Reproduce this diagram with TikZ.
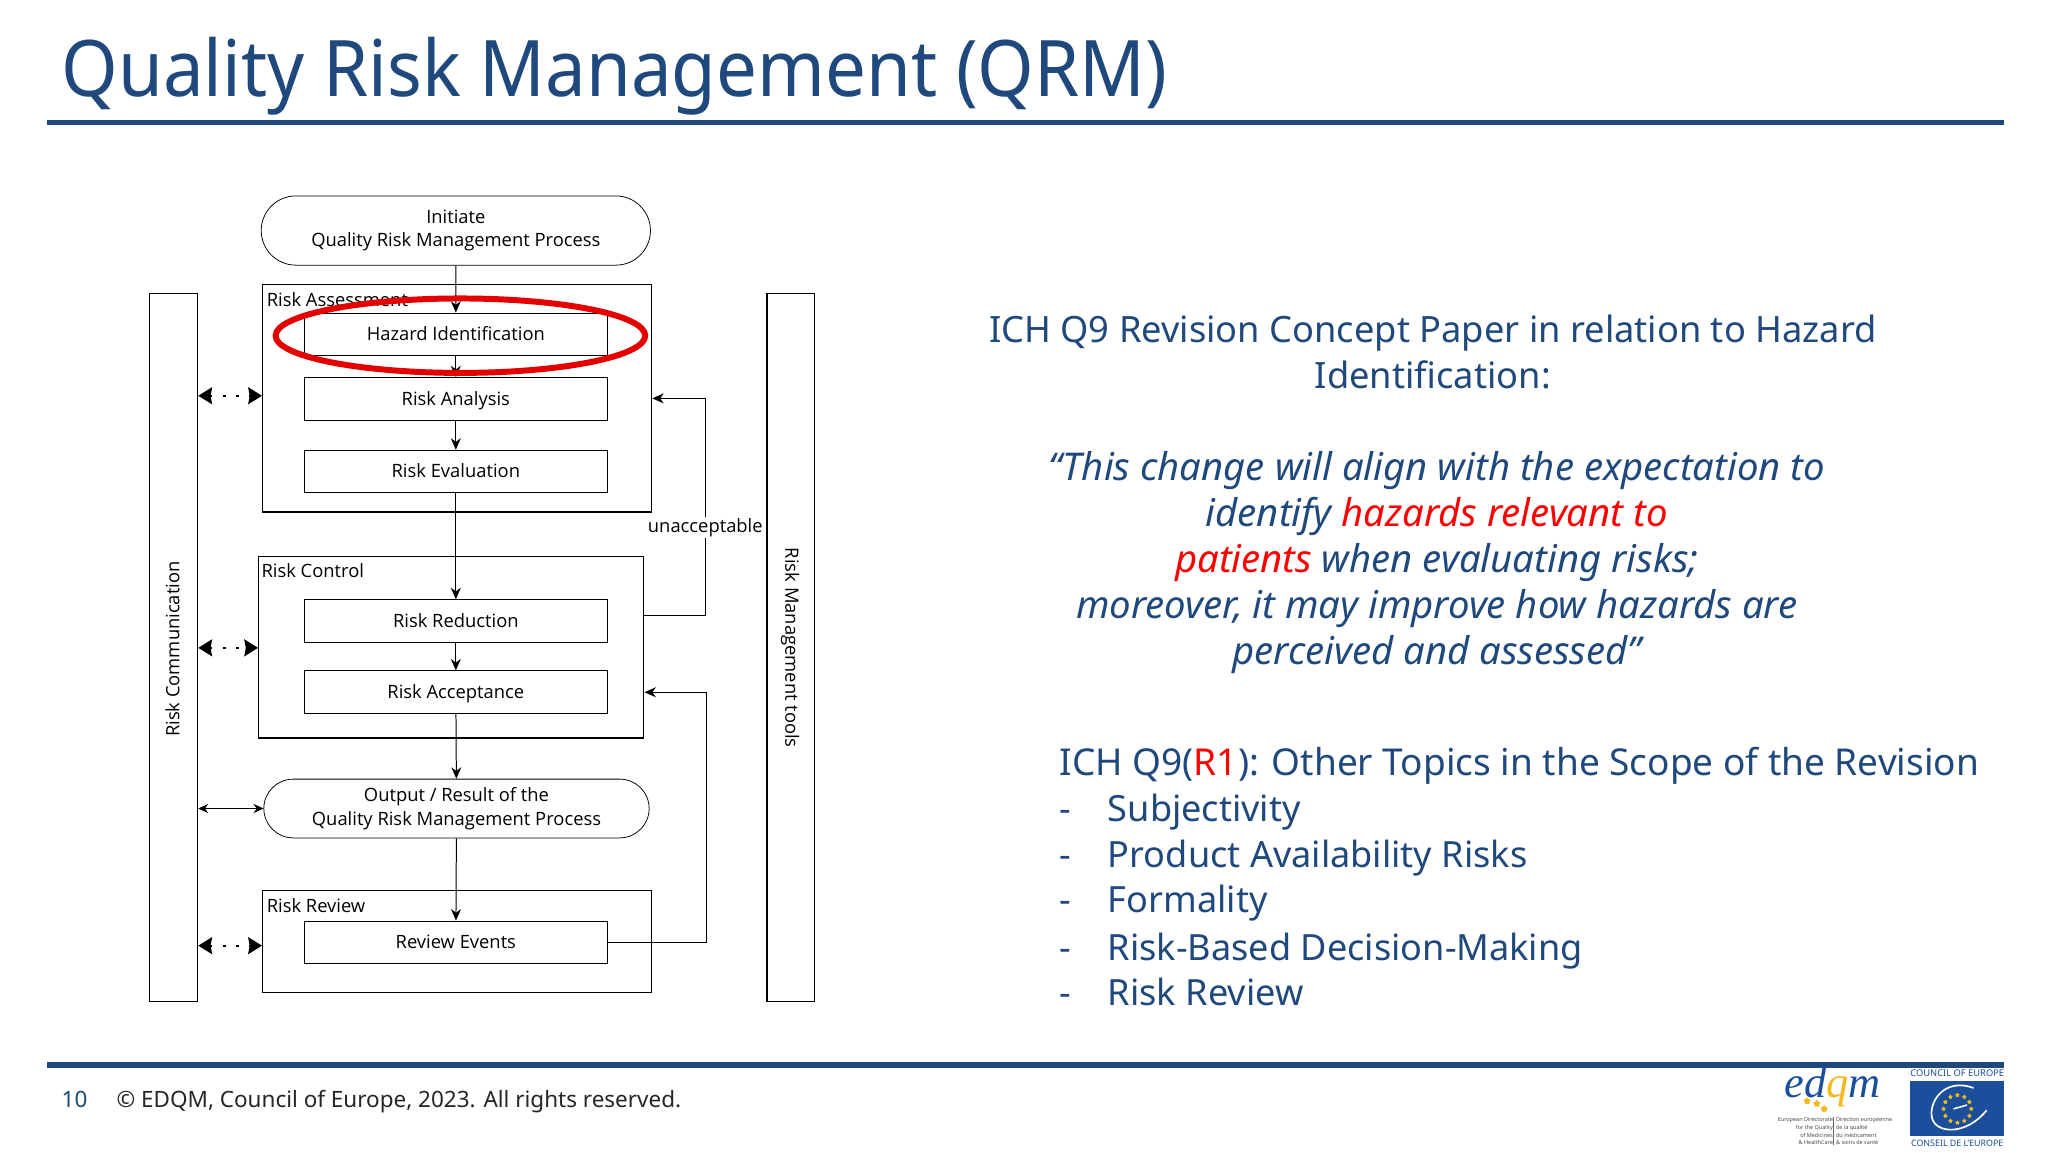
\documentclass[tikz,border=0pt]{standalone}
\usepackage{fontspec}
\setmainfont{Noto Sans}
\newfontfamily\chartfont{Open Sans}
\newfontfamily\titlefont[FakeStretch=0.93]{Noto Sans}
\newfontfamily\logofont{Liberation Serif}
\usetikzlibrary{arrows.meta, shapes.geometric, shapes.misc, calc}
\definecolor{qrmblue}{HTML}{1F497D}
\definecolor{logoblue}{HTML}{1B4F9C}
\definecolor{logoyellow}{HTML}{F5B91E}
\tikzset{
    box/.style={draw, line width=0.65pt, minimum width=6.96cm, minimum height=0.98cm, font=\chartfont\fontsize{12}{12}\selectfont, inner sep=0pt, text height=9.4pt, text depth=1pt},
    pill/.style={draw, line width=0.5pt, rounded rectangle, font=\chartfont\fontsize{12}{15}\selectfont, align=center, inner sep=0pt},
    group/.style={draw, line width=0.7pt, inner sep=0pt},
    bar/.style={draw, line width=0.8pt, minimum width=1.1cm, minimum height=16.26cm, inner sep=0pt},
    grouplabel/.style={font=\chartfont\fontsize{12}{12}\selectfont, anchor=west, inner sep=0pt},
    flow/.style={line width=0.65pt, -{Stealth[length=7.5pt,width=6.5pt]}},
    talk/.style={line width=1.5pt, dash pattern=on 1.6pt off 7pt, {Stealth[length=9pt,width=11pt,inset=1pt]}-{Stealth[length=9pt,width=11pt,inset=1pt]}},
    body/.style={text=qrmblue, font=\fontsize{23.7}{30}\selectfont, align=center, inner sep=0pt},
    quote/.style={text=qrmblue, font=\fontsize{25}{30}\selectfont\itshape, align=center, inner sep=0pt},
    item/.style={text=qrmblue, font=\fontsize{23.6}{30}\selectfont, anchor=base west, inner sep=0pt},
    tiny/.style={text=black!75, font=\chartfont\fontsize{3.6}{5.1}\selectfont, inner sep=0pt}
}
\begin{document}
\begin{tikzpicture}[x=0.03cm, y=-0.03cm]
    \useasboundingbox (0,0) rectangle (1568,882);
    \fill[white] (0,0) rectangle (1568,882);

    % Title and the two rules
    \node[text=qrmblue, font=\titlefont\fontsize{51}{51}\selectfont, anchor=base west, inner sep=0pt] (title) at (47,74) {Quality Risk Management (QRM)};
    \fill[qrmblue] (36,92) rectangle (1534,96);
    \fill[qrmblue] (36,813) rectangle (1534,818);

    % Side bars
    \node[bar] (comm) at (133,496) {};
    \node[bar] (tools) at (605.5,496) {};
    \node[font=\chartfont\fontsize{12}{12}\selectfont, rotate=90, inner sep=0pt] (commlabel) at (132,497) {Risk Communication};
    \node[font=\chartfont\fontsize{12}{12}\selectfont, rotate=-90, inner sep=0pt] (toolslabel) at (605,496) {Risk Management tools};

    % Group frames
    \node[group, minimum width=8.94cm, minimum height=5.22cm] (assess) at (350,305) {};
    \node[group, minimum width=8.85cm, minimum height=4.17cm] (control) at (345.5,495.5) {};
    \node[group, minimum width=8.94cm, minimum height=2.34cm] (review) at (350,721) {};
    \node[grouplabel] (assesslabel) at (204,229) {Risk Assessment};
    \node[grouplabel] (controllabel) at (200,437) {Risk Control};
    \node[grouplabel] (reviewlabel) at (204,693) {Risk Review};

    % Process steps
    \node[pill, minimum width=8.94cm, minimum height=1.59cm] (initiate) at (349,176.5) {Initiate\\Quality Risk Management Process};
    \node[box] (hazard) at (349,256) {Hazard Identification};
    \node[box] (analysis) at (349,305.5) {Risk Analysis};
    \node[box] (evaluation) at (349,361) {Risk Evaluation};
    \node[box] (reduction) at (349,475.5) {Risk Reduction};
    \node[box] (acceptance) at (349,530) {Risk Acceptance};
    \node[pill, font=\chartfont\fontsize{12}{16}\selectfont, minimum width=8.85cm, minimum height=1.35cm] (output) at (349.5,619) {Output / Result of the\\Quality Risk Management Process};
    \node[box] (events) at (349,721.5) {Review Events};

    % Flow arrows
    \draw[flow] (initiate) -- (hazard);
    \draw[flow] (hazard) -- (analysis);
    \draw[flow] (analysis) -- (evaluation);
    \draw[flow, line width=0.45pt] (evaluation) -- (reduction);
    \draw[flow] (reduction) -- (acceptance);
    \draw[flow] (acceptance) -- (output);
    \draw[flow] (output) -- (events);

    % Feedback loops
    \coordinate (upper) at (540,471);
    \coordinate (lower) at (541,530);
    \draw[flow] (control.east |- upper) -- (upper) |- (assess.east);
    \draw[flow] (events.east) -| (lower) -- (control.east |- lower);
    \node[fill=white, font=\chartfont\fontsize{12}{12}\selectfont, inner sep=1pt] (unacceptable) at (540,404) {unacceptable};

    % Links to the communication bar
    \draw[talk] (comm.east |- 0,303) -- (assess.west |- 0,303);
    \draw[talk] (comm.east |- 0,496) -- (control.west |- 0,496);
    \draw[talk] (comm.east |- 0,724) -- (review.west |- 0,724);
    \draw[line width=0.65pt, {Stealth[length=6.5pt,width=6pt]}-{Stealth[length=6.5pt,width=6pt]}] (comm.east |- output) -- (output.west);

    % Red mark round the hazard step
    \draw[draw=red!90!black, line width=3.9pt] (352.5,257) ellipse [x radius=141.5, y radius=28.5];

    % Right hand text
    \node[body] (concept) at (1097,269.5) {ICH Q9 Revision Concept Paper in relation to Hazard\\Identification:};
    \node[quote] (quotation) at (1100,430.5) {``This change will align with the expectation to\\identify {\color{red}hazards relevant to}\\{\color{red}patients} when evaluating risks;\\moreover, it may improve how hazards are\\perceived and assessed''};
    \node[item, font=\fontsize{24.2}{30}\selectfont] (topics) at (811,594) {ICH Q9({\color{red}R1}): Other Topics in the Scope of the Revision};
    \foreach \n/\y/\t in {1/629/Subjectivity, 2/664/Product Availability Risks, 3/699/Formality, 4/735/Risk-Based Decision-Making, 5/770/Risk Review} {
        \node[item] (dash\n) at (811,\y) {-};
        \node[item] (topic\n) at (848,\y) {\t};
    }

    % Footer
    \node[text=qrmblue, font=\fontsize{14.7}{15}\selectfont, anchor=base west, inner sep=0pt] (page) at (47,848) {10};
    \node[text=black!85, font=\fontsize{14.7}{15}\selectfont, anchor=base west, inner sep=0pt] (rights) at (89,848) {© EDQM, Council of Europe, 2023. All rights reserved.};

    % EDQM logo
    \node[text=logoblue, font=\logofont\itshape\fontsize{29}{29}\selectfont, inner sep=0pt] (edqm) at (1403,832) {ed{\color{logoyellow}q}m};
    \foreach \x/\y in {1383.6/843, 1391/845, 1396.6/849} {
        \node[star, star points=5, fill=logoyellow, minimum size=5pt, inner sep=0pt] at (\x,\y) {};
    }
    \node[tiny, align=right, anchor=east] (edqmleft) at (1403.5,866) {European Directorate\\for the Quality\\of Medicines\\\& HealthCare};
    \node[tiny, align=left, anchor=west] (edqmright) at (1405.5,866) {Direction européenne\\de la qualité\\du médicament\\\& soins de santé};
    \draw[line width=0.2pt, black!60] (edqmleft.north east) -- (edqmleft.south east);

    % Council of Europe flag
    \node[text=logoblue, font=\fontsize{6.1}{6.1}\selectfont, inner sep=0pt] (coetop) at (1498.5,822) {COUNCIL OF EUROPE};
    \node[text=logoblue, font=\fontsize{5.8}{5.8}\selectfont, inner sep=0pt] (coebottom) at (1498.5,875.5) {CONSEIL DE L'EUROPE};
    \fill[logoblue] (1462.5,827.7) rectangle (1534.5,870);
    \foreach \i in {0,30,...,330} {
        \node[star, star points=5, fill=logoyellow, minimum size=3pt, inner sep=0pt] at ($(1498.6,849)+(\i:10.6)$) {};
    }
    \draw[white, line width=1.1pt] (1511,833) .. controls (1490,825) and (1477,842) .. (1479,855) .. controls (1481,868) and (1505,870) .. (1521,850);
    \draw[white, line width=1pt] (1495.6,849) -- (1506,846);
\end{tikzpicture}
\end{document}
